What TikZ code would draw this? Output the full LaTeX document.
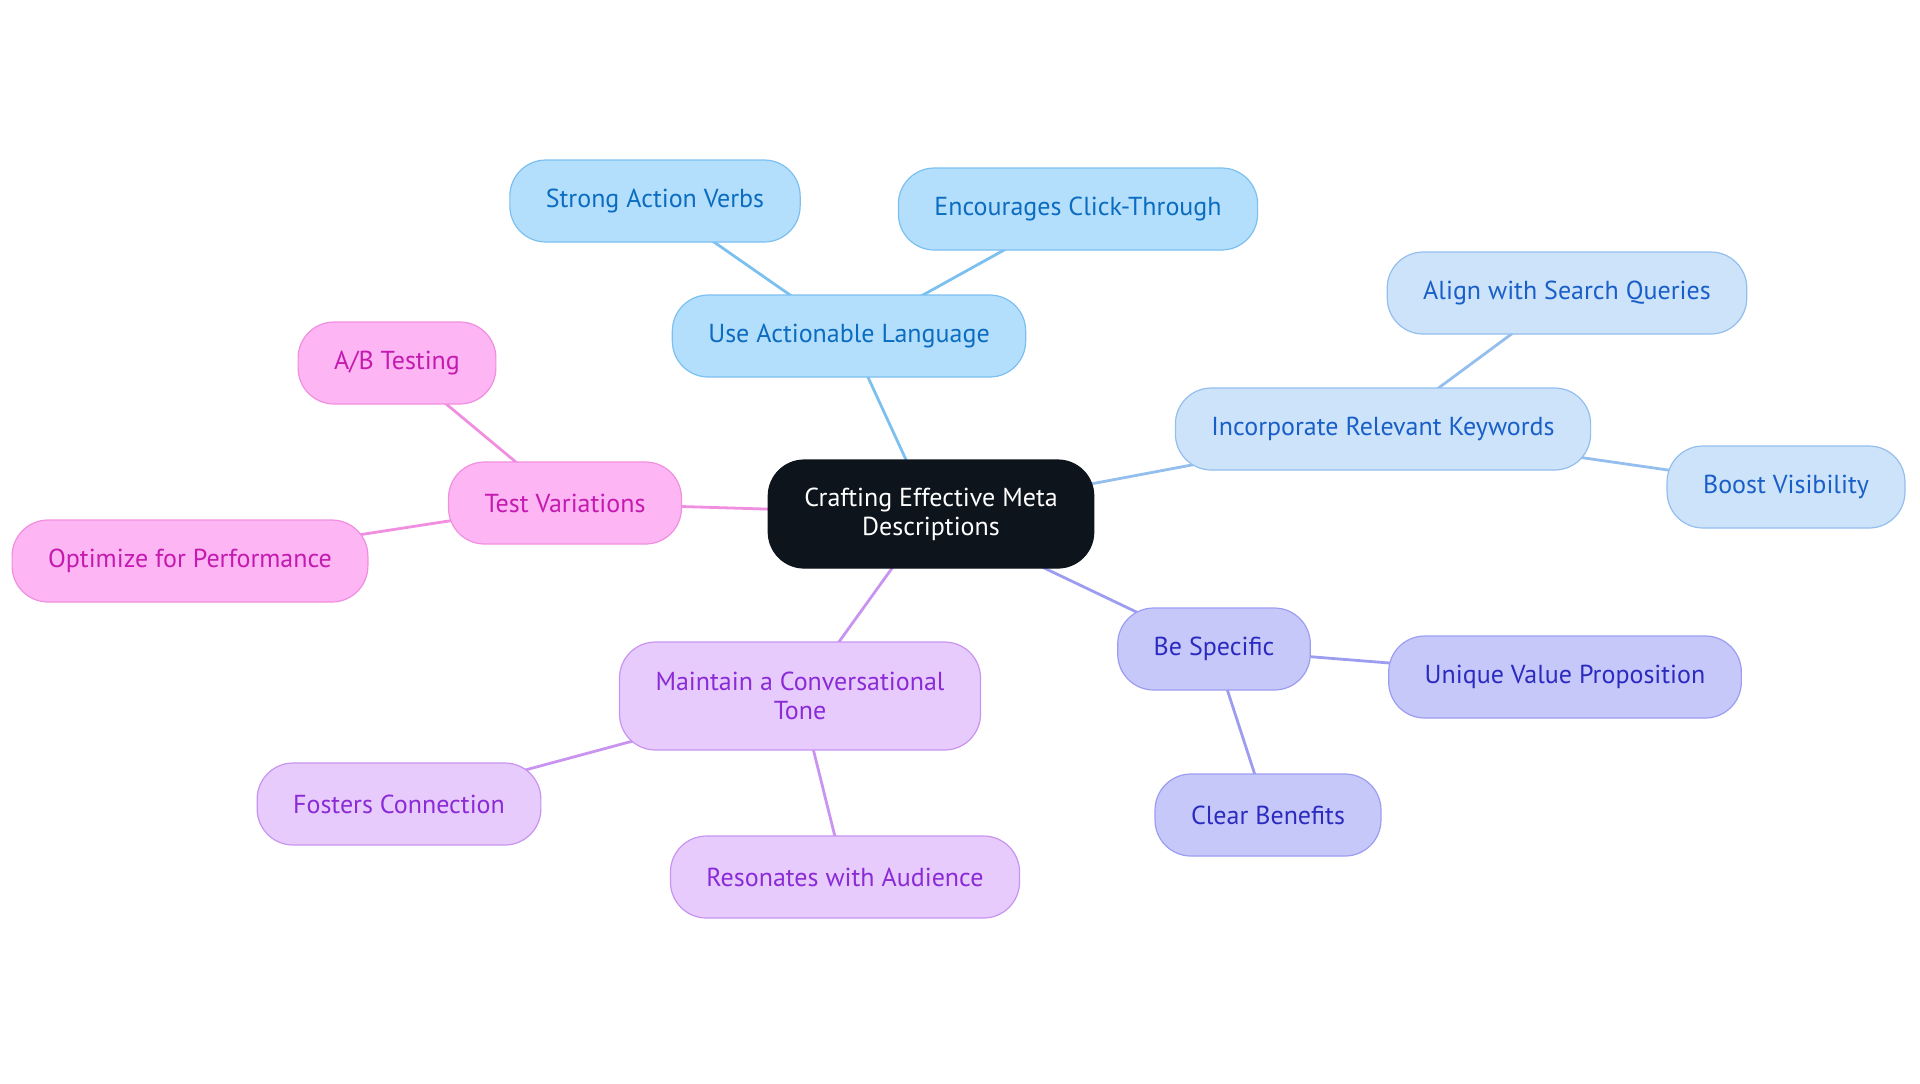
\documentclass[tikz,border=0pt]{standalone}
\usepackage{fontspec}
\setmainfont{PT Sans}
\usepackage{tikz}
\usetikzlibrary{backgrounds}
\usepackage{xcolor}
\definecolor{rootFill}{HTML}{0D141C}
\definecolor{skyFill}{HTML}{B3DFFC}
\definecolor{skyLine}{HTML}{7CC0F0}
\definecolor{skyText}{HTML}{0B6CC0}
\definecolor{paleFill}{HTML}{CCE3FA}
\definecolor{paleLine}{HTML}{94BEEE}
\definecolor{paleText}{HTML}{1A5FC8}
\definecolor{lavFill}{HTML}{C7C8FA}
\definecolor{lavLine}{HTML}{9C9DF0}
\definecolor{lavText}{HTML}{2B2BBF}
\definecolor{lilacFill}{HTML}{E7CBFC}
\definecolor{lilacLine}{HTML}{C894F0}
\definecolor{lilacText}{HTML}{8A2BD6}
\definecolor{pinkFill}{HTML}{FDB5F3}
\definecolor{pinkLine}{HTML}{F08FE0}
\definecolor{pinkText}{HTML}{C41AB0}

\tikzset{
  mapnode/.style={rounded corners=18pt, line width=0.6pt, minimum height=41pt,
    inner xsep=18pt, align=center, font=\fontsize{13}{14.5}\selectfont},
  rootnode/.style={mapnode, fill=rootFill, draw=rootFill, text=white, minimum height=54pt},
  skynode/.style={mapnode, fill=skyFill, draw=skyLine, text=skyText},
  palenode/.style={mapnode, fill=paleFill, draw=paleLine, text=paleText},
  lavnode/.style={mapnode, fill=lavFill, draw=lavLine, text=lavText},
  lilacnode/.style={mapnode, fill=lilacFill, draw=lilacLine, text=lilacText},
  pinknode/.style={mapnode, fill=pinkFill, draw=pinkLine, text=pinkText},
}

\begin{document}
\begin{tikzpicture}[x=0.5pt, y=-0.5pt]
\useasboundingbox (0,0) rectangle (1920,1083);
% centre
\node[rootnode] (root) at (931,514) {Crafting Effective Meta\\Descriptions};
% actionable language
\node[skynode] (action) at (849,336) {Use Actionable Language};
\node[skynode] (verbs) at (655,201) {Strong Action Verbs};
\node[skynode] (click) at (1078,209) {Encourages Click-Through};
% keywords
\node[palenode] (keywords) at (1383,429) {Incorporate Relevant Keywords};
\node[palenode] (queries) at (1567,293) {Align with Search Queries};
\node[palenode] (visibility) at (1786,487) {Boost Visibility};
% specific
\node[lavnode] (specific) at (1214,649) {Be Specific};
\node[lavnode] (value) at (1565,677) {Unique Value Proposition};
\node[lavnode] (benefits) at (1268,815) {Clear Benefits};
% tone
\node[lilacnode, minimum height=54pt] (tone) at (800,696) {Maintain a Conversational\\Tone};
\node[lilacnode] (connection) at (399,804) {Fosters Connection};
\node[lilacnode] (audience) at (845,877) {Resonates with Audience};
% testing
\node[pinknode] (variations) at (565,503) {Test Variations};
\node[pinknode] (abtest) at (397,363) {A/B Testing};
\node[pinknode] (performance) at (190,561) {Optimize for Performance};

\begin{scope}[on background layer]
\foreach \a/\b/\c in {root/action/skyLine, action/verbs/skyLine, action/click/skyLine,
  root/keywords/paleLine, keywords/queries/paleLine, keywords/visibility/paleLine,
  root/specific/lavLine, specific/value/lavLine, specific/benefits/lavLine,
  root/tone/lilacLine, tone/connection/lilacLine, tone/audience/lilacLine,
  root/variations/pinkLine, variations/abtest/pinkLine, variations/performance/pinkLine}
  \draw[\c, line width=1.4pt] (\a.center) -- (\b.center);
\end{scope}
\end{tikzpicture}
\end{document}
